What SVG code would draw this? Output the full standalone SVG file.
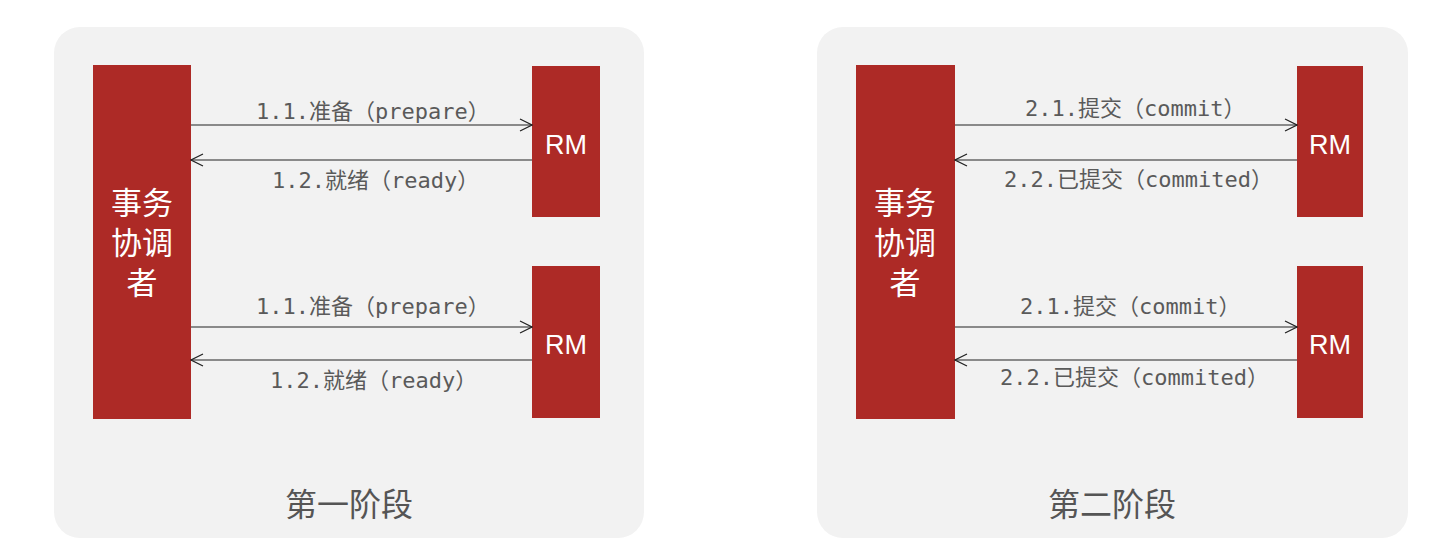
<svg xmlns="http://www.w3.org/2000/svg" width="1449" height="558" viewBox="0 0 1449 558">
<defs>
<style>
.panel{fill:#f2f2f2}
.box{fill:#ad2a26}
.line{stroke:#222;stroke-width:1.2;fill:none}
.lbl{font-family:"DejaVu Sans Mono","Noto Sans CJK SC",monospace;font-size:22px;fill:#5a5a5a}
.wt{font-family:"Noto Sans CJK SC",sans-serif;font-size:31px;fill:#fff;text-anchor:middle}
.rm{font-family:"Liberation Sans","Noto Sans CJK SC",sans-serif;font-size:27px;fill:#fff;text-anchor:middle}
.title{font-family:"Noto Sans CJK SC",sans-serif;font-size:32px;fill:#555;text-anchor:middle}
</style>
<marker id="ah" viewBox="0 0 14 14" refX="13" refY="7" markerWidth="14" markerHeight="14" markerUnits="userSpaceOnUse" orient="auto">
<path d="M1,1 L13,7 L1,13" fill="none" stroke="#222" stroke-width="1.2"/>
</marker>
</defs>
<rect width="1449" height="558" fill="#fff"/>
<g id="panel1">
<rect class="panel" x="54" y="27" width="590" height="511" rx="26"/>
<text class="title" x="349" y="516">第一阶段</text>
</g>
<g id="panel2">
<rect class="panel" x="817" y="27" width="591" height="511" rx="26"/>
<text class="title" x="1112" y="516">第二阶段</text>
</g>
<g id="coord1">
<rect class="box" x="93" y="65" width="98" height="354"/>
<text class="wt" x="142" y="214">事务<tspan x="142" dy="40">协调</tspan><tspan x="142" dy="40">者</tspan></text>
</g>
<g id="rm1"><rect class="box" x="532" y="66" width="68" height="151"/><text class="rm" x="566" y="154">RM</text></g>
<g id="rm2"><rect class="box" x="532" y="266" width="68" height="152"/><text class="rm" x="566" y="354">RM</text></g>
<g id="coord2">
<rect class="box" x="856" y="65" width="99" height="354"/>
<text class="wt" x="905" y="214">事务<tspan x="905" dy="40">协调</tspan><tspan x="905" dy="40">者</tspan></text>
</g>
<g id="rm3"><rect class="box" x="1297" y="66" width="66" height="151"/><text class="rm" x="1330" y="154">RM</text></g>
<g id="rm4"><rect class="box" x="1297" y="266" width="66" height="152"/><text class="rm" x="1330" y="354">RM</text></g>
<g id="connectors">
<line class="line" x1="191" y1="125" x2="532" y2="125" marker-end="url(#ah)"/>
<line class="line" x1="532" y1="160" x2="191" y2="160" marker-end="url(#ah)"/>
<line class="line" x1="191" y1="327" x2="532" y2="327" marker-end="url(#ah)"/>
<line class="line" x1="532" y1="360" x2="191" y2="360" marker-end="url(#ah)"/>
<line class="line" x1="955" y1="125" x2="1297" y2="125" marker-end="url(#ah)"/>
<line class="line" x1="1297" y1="160" x2="955" y2="160" marker-end="url(#ah)"/>
<line class="line" x1="955" y1="327" x2="1297" y2="327" marker-end="url(#ah)"/>
<line class="line" x1="1297" y1="360" x2="955" y2="360" marker-end="url(#ah)"/>
<text class="lbl" x="256" y="119">1.1.准备（prepare）</text>
<text class="lbl" x="272" y="188">1.2.就绪（ready）</text>
<text class="lbl" x="256" y="314">1.1.准备（prepare）</text>
<text class="lbl" x="270" y="388">1.2.就绪（ready）</text>
<text class="lbl" x="1025" y="116">2.1.提交（commit）</text>
<text class="lbl" x="1004" y="187">2.2.已提交（commited）</text>
<text class="lbl" x="1020" y="314">2.1.提交（commit）</text>
<text class="lbl" x="1000" y="385">2.2.已提交（commited）</text>
</g>
</svg>
